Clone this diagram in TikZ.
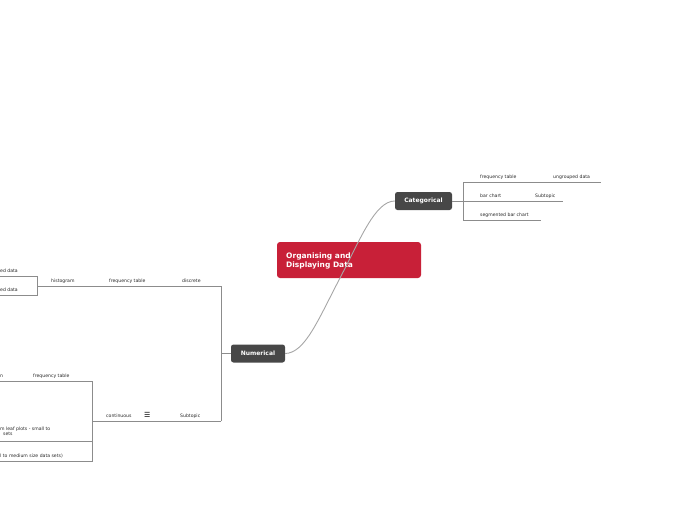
\documentclass[tikz,border=0pt]{standalone}
\usepackage{fontspec}
\setmainfont{DejaVu Sans}
\begin{document}
\begin{tikzpicture}[x=1pt,y=-1pt,
  lbl/.style={anchor=base west,inner sep=0pt,font=\fontsize{4.6}{5.5}\selectfont,text=black!85},
  br/.style={draw=black!45,line width=0.5pt},
  topic/.style={fill=black!72,rounded corners=2.5pt,text=white,font=\fontsize{6}{7}\selectfont\bfseries,minimum height=18pt,inner sep=0pt},
  conn/.style={draw=black!35,line width=0.9pt}]
\useasboundingbox (0,0) rectangle (697,520);
\node[fill={rgb,255:red,200;green,32;blue,56},rounded corners=3pt,minimum width=144pt,minimum height=36pt,inner sep=0pt] (c) at (349,260) {};
\node[anchor=west,text=white,font=\fontsize{7.5}{9}\selectfont\bfseries,align=left,inner sep=0pt] (ct) at (286,261) {Organising and\\Displaying Data};
\node[topic,minimum width=57pt] (cat) at (423.5,201) {Categorical};
\node[topic,minimum width=54pt] (num) at (258,353.5) {Numerical};
\coordinate (cb) at (340,278);
\draw[conn] (cb) .. controls (360,240) and (375,201) .. (cat.west);
\draw[conn] (cb) .. controls (318,320) and (305,353) .. (num.east);
% categorical branches
\coordinate (cv1) at (463,182); \coordinate (cv2) at (463,220);
\draw[br] (cv1) -- (cv2);
\draw[br] (cat.east) -- (563,201);
\draw[br] (cv1) -- (601,182);
\draw[br] (cv2) -- (541,220);
\node[lbl] (f1) at (480,178) {frequency table};
\node[lbl] (u1) at (553,178) {ungrouped data};
\node[lbl] (b1) at (480,197.5) {bar chart};
\node[lbl] (s1) at (535,197.5) {Subtopic};
\node[lbl] (sb) at (480,216.5) {segmented bar chart};
% numerical
\coordinate (nv1) at (221,286); \coordinate (nv2) at (221,421);
\draw[br] (num.west) -- (221,353.5);
\draw[br] (nv1) -- (nv2);
\draw[br] (nv1) -- (37,286);
\node[lbl] (d) at (182,282.5) {discrete};
\node[lbl] (ft) at (109,282.5) {frequency table};
\node[lbl] (h) at (51,282.5) {histogram};
\draw[br] (0,276) -- (37,276) -- (37,295) -- (0,295);
\node[lbl] (g1) at (0,272.5) {ed data};
\node[lbl] (g2) at (0,291.5) {ed data};
\draw[br] (nv2) -- (92,421);
\node[lbl] (st) at (180,417.5) {Subtopic};
\node[lbl] (co) at (106,417.5) {continuous};
\node[anchor=base west,inner sep=0pt,font=\fontsize{7}{8}\selectfont] (ic) at (144,417.5) {☰};
\draw[br] (0,381) -- (92,381) -- (92,461) -- (0,461);
\draw[br] (0,441) -- (92,441);
\node[lbl] (n1) at (0,377) {n};
\node[lbl] (n2) at (33,377) {frequency table};
\node[lbl,align=left,anchor=north west] (n3) at (0,426.5) {m leaf plots - small to\\\ \ sets};
\node[lbl] (n4) at (0,457.5) {l to medium size data sets)};
\end{tikzpicture}
\end{document}
